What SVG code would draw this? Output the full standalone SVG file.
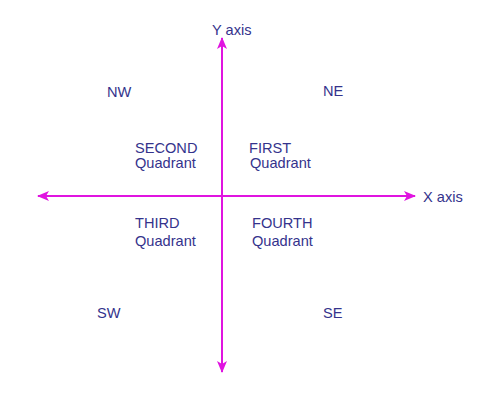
<svg xmlns="http://www.w3.org/2000/svg" width="502" height="409" viewBox="0 0 502 409">
<style>
.t{font-family:"Liberation Sans",Arial,sans-serif;font-size:14.6px;fill:#34338c}
.ax{stroke:#e014e0;stroke-width:2;fill:none}
</style>
<defs>
<marker id="ah" viewBox="0 0 12 10" refX="11" refY="5" markerWidth="12" markerHeight="10" markerUnits="userSpaceOnUse" orient="auto">
<path d="M0,0 L12,5 L0,10 L3,5 Z" fill="#e014e0"/>
</marker>
</defs>
<rect width="502" height="409" fill="#ffffff"/>
<g id="connectors">
<line class="ax" x1="222" y1="196" x2="222" y2="38" marker-end="url(#ah)"/>
<line class="ax" x1="222" y1="196" x2="222" y2="372" marker-end="url(#ah)"/>
<line class="ax" x1="222" y1="196" x2="38" y2="196" marker-end="url(#ah)"/>
<line class="ax" x1="222" y1="196" x2="415" y2="196" marker-end="url(#ah)"/>
</g>
<g id="yaxis"><text class="t" x="212" y="35">Y axis</text></g>
<g id="xaxis"><text class="t" x="423" y="202">X axis</text></g>
<g id="nw"><text class="t" x="107" y="97">NW</text></g>
<g id="ne"><text class="t" x="323" y="96">NE</text></g>
<g id="second"><text class="t" x="135" y="153">SECOND</text><text class="t" x="135" y="168">Quadrant</text></g>
<g id="first"><text class="t" x="249" y="153">FIRST</text><text class="t" x="250" y="168">Quadrant</text></g>
<g id="third"><text class="t" x="135" y="228">THIRD</text><text class="t" x="135" y="246">Quadrant</text></g>
<g id="fourth"><text class="t" x="252" y="228">FOURTH</text><text class="t" x="252" y="246">Quadrant</text></g>
<g id="sw"><text class="t" x="97" y="318">SW</text></g>
<g id="se"><text class="t" x="323" y="318">SE</text></g>
</svg>
